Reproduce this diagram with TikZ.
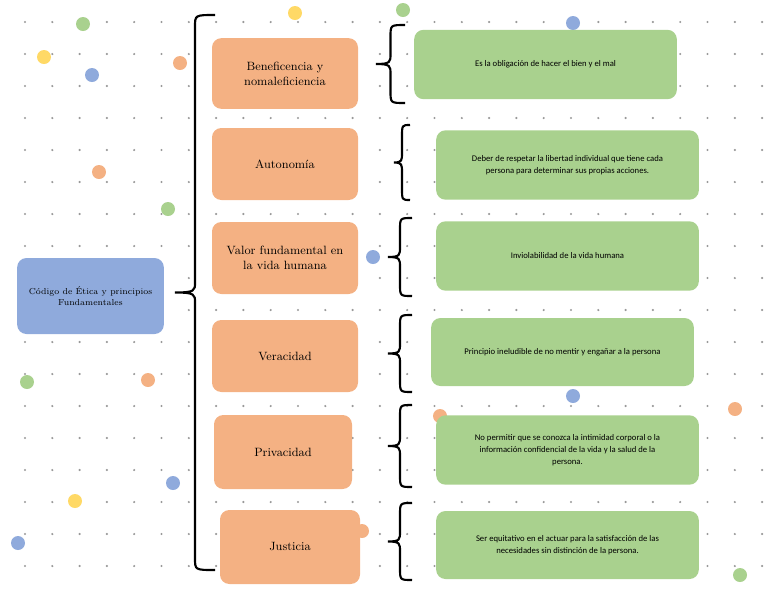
\documentclass[tikz,border=0pt]{standalone}
\usepackage{fontspec}
\newfontfamily\gsans{Carlito}
\begin{document}
\newcommand{\mybrace}[4]{% xtip xend ytop ybot
 \pgfmathsetmacro{\xm}{(#1+#2)/2}\pgfmathsetmacro{\ym}{(#3+#4)/2}
 \draw[line width=1.6pt] (#2,#3) .. controls (\xm,#3) and (\xm,#3) .. (\xm,#3+12)
 -- (\xm,\ym-10) .. controls (\xm,\ym-2) and (\xm,\ym) .. (#1,\ym)
 .. controls (\xm,\ym) and (\xm,\ym+2) .. (\xm,\ym+10)
 -- (\xm,#4-12) .. controls (\xm,#4) and (\xm,#4) .. (#2,#4);}
\begin{tikzpicture}[x=0.75pt,y=-0.75pt,
 bx/.style={rounded corners=7pt,inner sep=2pt,align=center},
 blue/.style={bx,fill=blueC,font=\fontsize{6.5}{8}\selectfont},
 org/.style={bx,fill=orgC,font=\fontsize{9}{11}\selectfont},
 grn/.style={bx,fill=grnC,font=\gsans\fontsize{6.5}{9}\selectfont},
 dot/.style={circle,inner sep=0pt,minimum size=10.5pt}]
\definecolor{blueC}{HTML}{8FAADC}\definecolor{orgC}{HTML}{F4B183}
\definecolor{grnC}{HTML}{A9D18E}\definecolor{yelC}{HTML}{FFD966}
\useasboundingbox (0,0) rectangle (768,594);
\foreach \i in {0,...,27}\foreach \j in {0,...,18}
 \fill[gray!80] (25+27.3*\i,22+32*\j) circle (0.9pt);
\foreach \x/\y/\c in {83/24/grnC,44/57/yelC,92/75/blueC,180/63/orgC,295/13/yelC,403/10/grnC,573/23/blueC,99/172/orgC,168/209/grnC,373/257/blueC,27/382/grnC,148/380/orgC,573/396/blueC,440/416/orgC,735/409/orgC,173/483/blueC,75/501/yelC,18/543/blueC,362/531/orgC,740/575/grnC}
 \fill[\c] (\x,\y) circle (7);
\node[blue,minimum width=110pt,minimum height=57pt] (root) at (90.5,296) {Código de Ética y principios\\Fundamentales};
\mybrace{175}{215}{15}{570}
\node[org,minimum width=109.5pt,minimum height=53pt] (o1) at (285,73.5) {Beneficencia y\\nomaleficiencia};
\node[org,minimum width=109.5pt,minimum height=54pt] (o2) at (285,164) {Autonomía};
\node[org,minimum width=109.5pt,minimum height=54pt] (o3) at (285,258) {Valor fundamental en\\la vida humana};
\node[org,minimum width=109.5pt,minimum height=54pt] (o4) at (285,356) {Veracidad};
\node[org,minimum width=103.5pt,minimum height=55.5pt] (o5) at (283,452) {Privacidad};
\node[org,minimum width=105pt,minimum height=55.5pt] (o6) at (290,547) {Justicia};
\mybrace{376}{405}{25}{103}
\mybrace{394}{410}{125}{200}
\mybrace{388}{412}{218}{296}
\mybrace{388}{412}{315}{392}
\mybrace{388}{412}{405}{487}
\mybrace{388}{412}{503}{580}
\node[grn,minimum width=197pt,minimum height=52pt] (g1) at (545.5,64.5) {Es la obligación de hacer el bien y el mal};
\node[grn,minimum width=197pt,minimum height=52pt] (g2) at (567.5,165) {Deber de respetar la libertad individual que tiene cada\\persona para determinar sus propias acciones.};
\node[grn,minimum width=197pt,minimum height=52pt] (g3) at (567.5,256) {Inviolabilidad de la vida humana};
\node[grn,minimum width=197pt,minimum height=51pt] (g4) at (562.5,352) {Principio ineludible de no mentir y engañar a la persona};
\node[grn,minimum width=197pt,minimum height=52pt] (g5) at (567.5,450) {No permitir que se conozca la intimidad corporal o la\\información confidencial de la vida y la salud de la\\persona.};
\node[grn,minimum width=197pt,minimum height=51pt] (g6) at (567.5,545) {Ser equitativo en el actuar para la satisfacción de las\\necesidades sin distinción de la persona.};
\end{tikzpicture}
\end{document}
